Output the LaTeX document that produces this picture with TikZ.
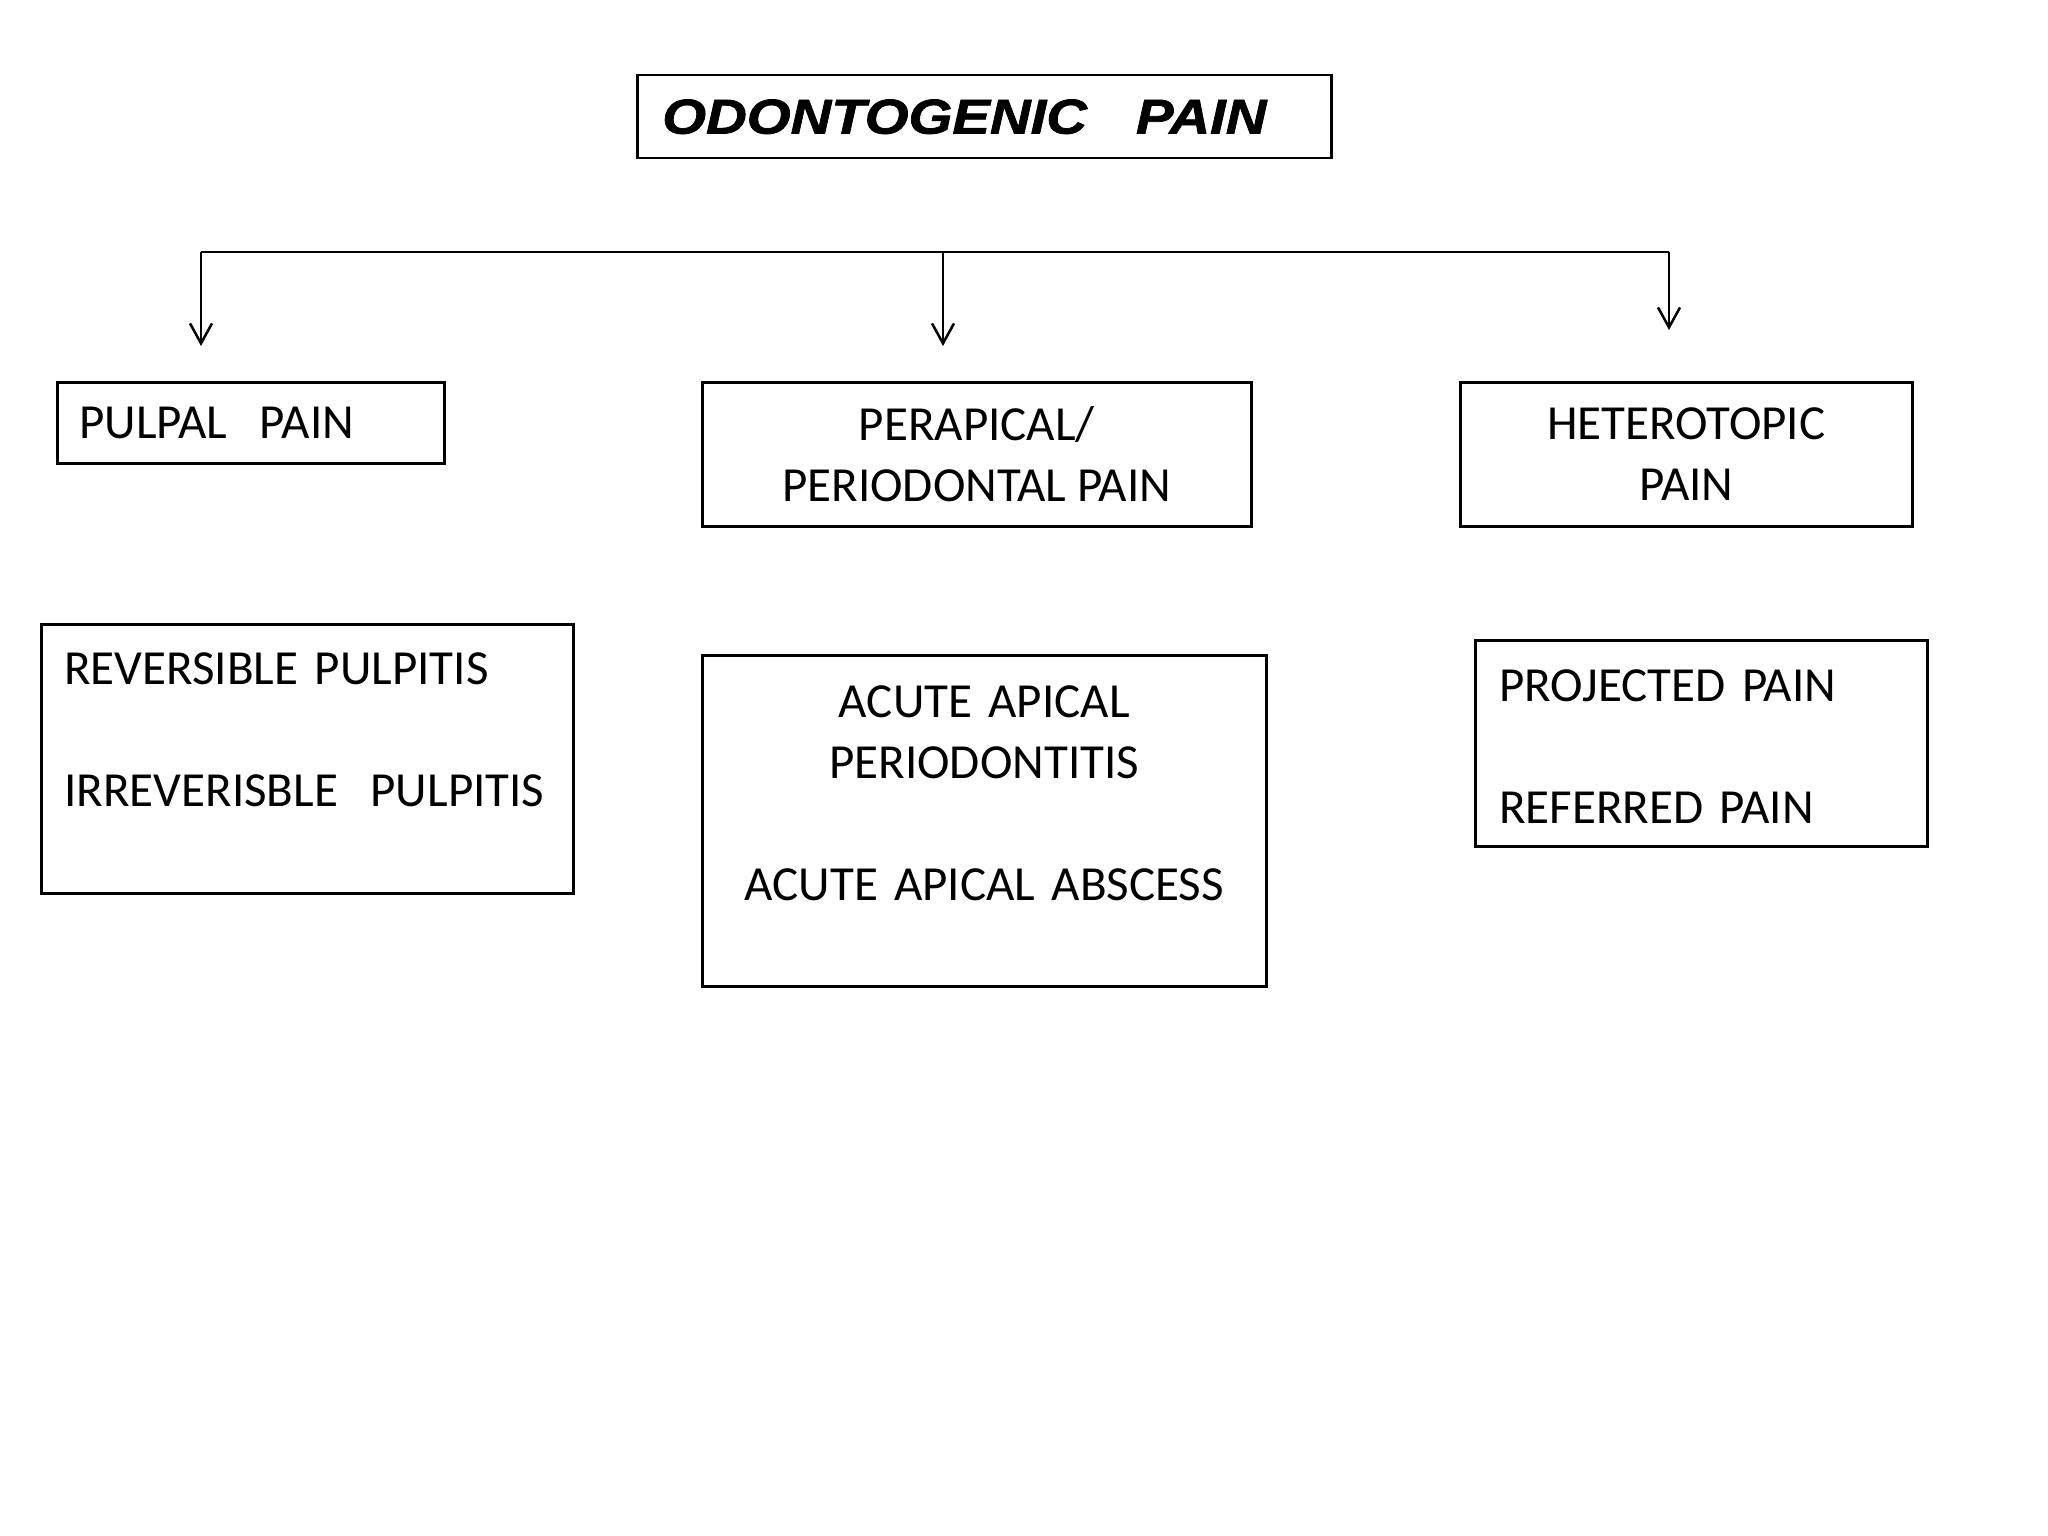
\documentclass[tikz,border=0pt]{standalone}
\usepackage{fontspec}
\setmainfont{Carlito}
\newfontfamily\titlefont[FakeStretch=1.15, FakeBold=1.5]{Liberation Sans}
\usetikzlibrary{arrows.meta}
\tikzset{
  caja/.style={rectangle, draw=black, line width=2.5pt, inner ysep=0pt, font=\fontsize{49}{61}\selectfont},
  flecha/.style={line width=2.5pt, -{Straight Barb[length=20pt, width=22pt, line width=2.5pt]}}
}
\begin{document}
\begin{tikzpicture}[x=1pt, y=-1pt,
        cajaizq/.style={caja, align=left},
        cajacentro/.style={caja, align=center}
    ]
        \useasboundingbox (0,0) rectangle (2048,1536);

        % Titulo
        \node[caja, anchor=north west, minimum width=694pt, minimum height=83pt,
              text width=644pt, inner xsep=25pt, align=left,
              font=\titlefont\bfseries\itshape\fontsize{49}{61}\selectfont]
              (titulo) at (636,74) {ODONTOGENIC~~~PAIN};

        % Primer nivel
        \node[cajaizq, anchor=north west, minimum width=387pt, minimum height=81pt,
              text width=343pt, inner xsep=22pt] (pulpar) at (56,381) {PULPAL~~PAIN};
        \node[cajacentro, anchor=north west, minimum width=549pt, minimum height=144pt]
              (periapical) at (701,381) {PERAPICAL/\\PERIODONTAL PAIN};
        \node[cajacentro, anchor=north west, minimum width=452pt, minimum height=144pt]
              (heterotopico) at (1459,381) {HETEROTOPIC\\PAIN};

        % Segundo nivel (texto arriba)
        \node[cajaizq, anchor=north west, minimum width=532pt, text width=486pt, inner xsep=23pt,
              text height=60pt, text depth=209pt]
              (pulpitis) at (40,623) {REVERSIBLE PULPITIS\\[61pt]IRREVERISBLE~~PULPITIS};
        \node[cajacentro, anchor=north west, minimum width=564pt, text width=544pt, inner xsep=10pt,
              text height=62pt, text depth=269pt]
              (agudo) at (701,654) {ACUTE APICAL\\PERIODONTITIS\\[61pt]ACUTE APICAL ABSCESS};
        \node[cajaizq, anchor=north west, minimum width=452pt, text width=404pt, inner xsep=24pt,
              text height=61pt, text depth=145pt]
              (proyectado) at (1474,639) {PROJECTED PAIN\\[61pt]REFERRED PAIN};

        % Puntos de la linea horizontal
        \coordinate (bus_izq) at (201,252);
        \coordinate (bus_centro) at (943,252);
        \coordinate (bus_der) at (1669,252);
        \coordinate (punta_izq) at (201,346);
        \coordinate (punta_centro) at (943,346);
        \coordinate (punta_der) at (1669,330);

        % Flechas
        \draw[line width=2.5pt] (bus_izq) -- (bus_der);
        \draw[flecha] (bus_izq) -- (punta_izq);
        \draw[flecha] (bus_centro) -- (punta_centro);
        \draw[flecha] (bus_der) -- (punta_der);

    \end{tikzpicture}
\end{document}
